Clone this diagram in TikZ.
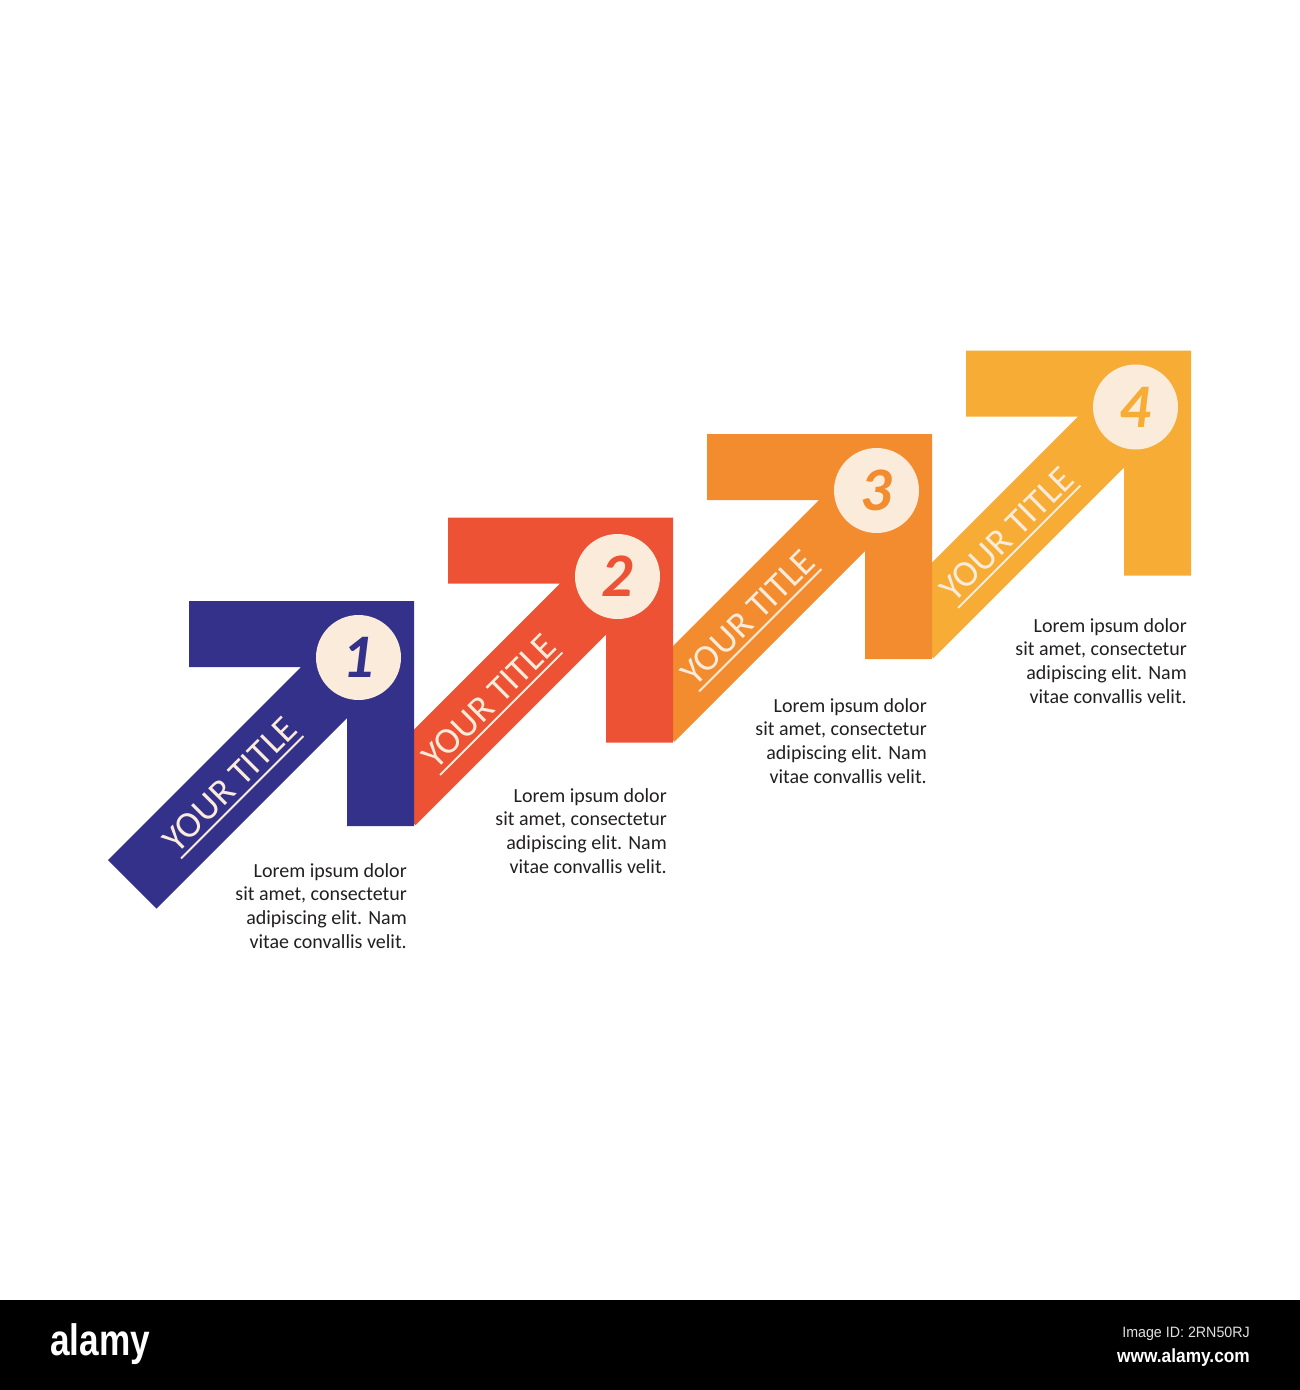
\documentclass[tikz,border=0pt]{standalone}
\usepackage{fontspec}
\setmainfont{Carlito}
\newfontfamily\barfont{Liberation Sans}
\usetikzlibrary{calc}
\definecolor{cBlue}{HTML}{333189}
\definecolor{cRed}{HTML}{EC5233}
\definecolor{cOrange}{HTML}{F28C2F}
\definecolor{cYellow}{HTML}{F6AC35}
\definecolor{cCream}{HTML}{FBEBDA}
\definecolor{cText}{HTML}{231F20}
\begin{document}
\begin{tikzpicture}[x=1pt,y=-1pt,
  badge/.style={circle, fill=cCream, minimum size=85pt, inner sep=0pt},
  numtext/.style={font=\fontsize{62}{62}\selectfont\bfseries\itshape, inner sep=0pt},
  titletext/.style={font=\fontsize{37}{37}\selectfont, text=cCream, inner sep=0pt, rotate=45, anchor=base},
  uline/.style={draw=cCream, line width=1.8pt},
  desc/.style={font=\fontsize{20}{23.7}\selectfont, text=cText, inner sep=0pt, anchor=base east},
  barlogo/.style={font=\barfont\bfseries\fontsize{44}{44}\selectfont, text=white, inner sep=0pt, xscale=0.8, anchor=base west},
  barsmall/.style={font=\barfont\fontsize{15}{15}\selectfont, text=white!88!black, inner sep=0pt, xscale=0.95, anchor=base east},
  barweb/.style={font=\barfont\bfseries\fontsize{19}{19}\selectfont, text=white, inner sep=0pt, xscale=0.91, anchor=base east}]
\useasboundingbox (0,0) rectangle (1300,1390);
\fill[white] (0,0) rectangle (1300,1390);

\foreach \i/\col/\num/\cdy in {3/cYellow/4/0, 2/cOrange/3/0, 1/cRed/2/2.5, 0/cBlue/1/0}{
  \begin{scope}[shift={(259*\i,-83.5*\i)}]
    \fill[\col] (108,860) -- (301,667) -- (189,667) -- (189,601) -- (414,601)
      -- (414,826) -- (347,826) -- (347,718) -- (156.5,908.5) -- cycle;
    \node[badge] (circ\num) at (358.5,657.5+\cdy) {};
    \node[numtext, text=\col] (num\num) at (circ\num.center) {\num};
    \node[titletext] (title\num) at (238,793) {YOUR TITLE};
    \coordinate (ulA\num) at ($(title\num.base west)!6pt!-90:(title\num.base east)$);
    \coordinate (ulB\num) at ($(title\num.base east)!6pt!90:(title\num.base west)$);
    \draw[uline] (ulA\num) -- (ulB\num);
  \end{scope}
}

\node[desc] (desc1) at (407,877) {\begin{tabular}[t]{@{}r@{}}Lorem ipsum dolor\\sit amet, consectetur\\adipiscing elit. Nam\\vitae convallis velit.\end{tabular}};
\node[desc] (desc2) at (667,802) {\begin{tabular}[t]{@{}r@{}}Lorem ipsum dolor\\sit amet, consectetur\\adipiscing elit. Nam\\vitae convallis velit.\end{tabular}};
\node[desc] (desc3) at (927,712) {\begin{tabular}[t]{@{}r@{}}Lorem ipsum dolor\\sit amet, consectetur\\adipiscing elit. Nam\\vitae convallis velit.\end{tabular}};
\node[desc] (desc4) at (1187,632) {\begin{tabular}[t]{@{}r@{}}Lorem ipsum dolor\\sit amet, consectetur\\adipiscing elit. Nam\\vitae convallis velit.\end{tabular}};

\fill[black] (0,1300) rectangle (1300,1390);
\node[barlogo] (logo) at (50,1355) {alamy};
\node[barsmall] (imgid) at (1250,1337) {Image ID: 2RN50RJ};
\node[barweb] (web) at (1250,1362) {www.alamy.com};
\end{tikzpicture}
\end{document}
